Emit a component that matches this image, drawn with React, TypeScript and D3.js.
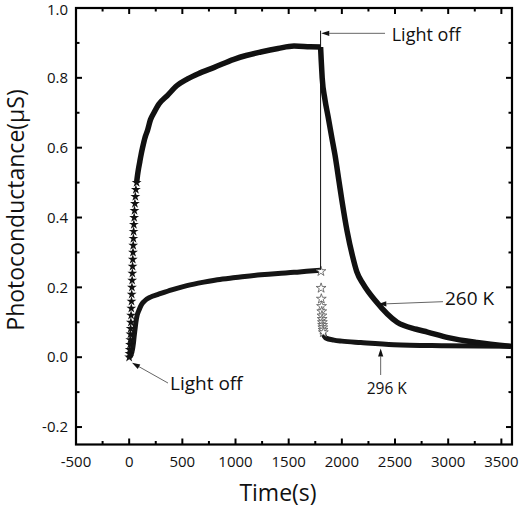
import * as d3 from 'd3';

// axis ticks
const xMajor = [-500, 0, 500, 1000, 1500, 2000, 2500, 3000, 3500];
const xMinor = [-250, 250, 750, 1250, 1750, 2250, 2750, 3250];
const yMajor = [-0.2, 0, 0.2, 0.4, 0.6, 0.8, 1.0];
const yMinor = [-0.1, 0.1, 0.3, 0.5, 0.7, 0.9];

// 260 K: sparse stars of the first steep rise
const k260Rise: [number, number][] = [
  [0, 0.0], [3, 0.01], [5, 0.022], [8, 0.036], [10, 0.05], [12, 0.066], [14, 0.082],
  [16, 0.1], [18, 0.12], [20, 0.14], [22, 0.16], [24, 0.18], [26, 0.2], [28, 0.22],
  [30, 0.24], [32, 0.26], [34, 0.28], [36, 0.3], [38, 0.32], [40, 0.34], [42, 0.36],
  [44, 0.38], [47, 0.4], [50, 0.42], [54, 0.44], [58, 0.46], [63, 0.48], [70, 0.5],
];
// 260 K: dense growth under light
const k260Growth: [number, number][] = [
  [70, 0.5], [78, 0.52], [88, 0.54], [100, 0.56], [112, 0.58], [126, 0.6], [150, 0.63],
  [173, 0.65], [200, 0.68], [233, 0.7], [280, 0.725], [361, 0.75], [450, 0.778],
  [549, 0.797], [650, 0.812], [800, 0.83], [985, 0.853], [1100, 0.864], [1238, 0.874],
  [1400, 0.884], [1550, 0.891], [1700, 0.889], [1800, 0.888],
];
// 260 K: decay after light off
const k260Decay: [number, number][] = [
  [1800, 0.888], [1806, 0.85], [1815, 0.8], [1840, 0.74], [1870, 0.69], [1905, 0.63],
  [1935, 0.58], [1975, 0.5], [2000, 0.45], [2050, 0.36], [2100, 0.29], [2140, 0.245],
  [2200, 0.21], [2320, 0.16], [2520, 0.1], [2700, 0.08], [2805, 0.072], [3000, 0.056],
  [3270, 0.042], [3590, 0.031],
];

// 296 K: growth under light
const k296Growth: [number, number][] = [
  [0, 0.0], [15, 0.005], [31, 0.022], [40, 0.04], [47, 0.06], [55, 0.08], [63, 0.1],
  [75, 0.12], [94, 0.136], [115, 0.15], [141, 0.16], [200, 0.172], [266, 0.179],
  [400, 0.193], [517, 0.203], [650, 0.212], [830, 0.222], [1000, 0.228], [1238, 0.236],
  [1400, 0.24], [1550, 0.243], [1700, 0.247], [1800, 0.249],
];
// 296 K: sparse hollow stars of the drop
const k296Drop: [number, number][] = [
  [1803, 0.246], [1805, 0.198], [1807, 0.167], [1809, 0.146], [1811, 0.131],
  [1813, 0.119], [1815, 0.109], [1817, 0.1], [1819, 0.092], [1821, 0.085],
  [1823, 0.078], [1826, 0.071],
];
// 296 K: slow decay after light off
const k296Decay: [number, number][] = [
  [1826, 0.071], [1830, 0.064], [1840, 0.058], [1849, 0.055], [1925, 0.049],
  [2000, 0.046], [2178, 0.042], [2490, 0.036], [2960, 0.033], [3590, 0.031],
];

const W = 520;
const H = 509;
const margin = { top: 8, right: 8, bottom: 64.5, left: 76 };
const font = '"Open Sans", "Noto Sans", sans-serif';

const x = d3.scaleLinear().domain([-500, 3600]).range([margin.left, W - margin.right]);
const y = d3.scaleLinear().domain([-0.25, 1.0]).range([H - margin.bottom, margin.top]);

const line = d3
  .line<[number, number]>()
  .x((d) => x(d[0]))
  .y((d) => y(d[1]))
  .curve(d3.curveMonotoneX);

const star = d3.symbol(d3.symbolStar, 30)() as string;

function Arrow({ x1, y1, x2, y2 }: { x1: number; y1: number; x2: number; y2: number }) {
  // tail (x1,y1) -> tip (x2,y2), in data units
  const ax = x(x1), ay = y(y1), bx = x(x2), by = y(y2);
  const ang = Math.atan2(by - ay, bx - ax);
  const len = 8, half = 2.6;
  const px = bx - len * Math.cos(ang), py = by - len * Math.sin(ang);
  const head = [
    [bx, by],
    [px - half * Math.sin(ang), py + half * Math.cos(ang)],
    [px + half * Math.sin(ang), py - half * Math.cos(ang)],
  ].map((p) => p.join(',')).join(' ');
  return (
    <g>
      <line x1={ax} y1={ay} x2={px} y2={py} stroke="#666" strokeWidth={1} />
      <polygon points={head} fill="#111" />
    </g>
  );
}

export default function App() {
  const x0 = x.range()[0], x1 = x.range()[1];
  const y0 = y.range()[0], y1 = y.range()[1];
  return (
    <svg width={W} height={H} style={{ position: 'absolute', left: 0, top: 0, background: '#fff' }}>
      <rect width={W} height={H} fill="#fff" />

      {/* 296 K */}
      <path d={line(k296Growth) as string} fill="none" stroke="#151515" strokeWidth={5} />
      <path d={line(k296Decay) as string} fill="none" stroke="#151515" strokeWidth={5} />
      {k296Drop.map((d, i) => (
        <path key={'d' + i} d={star} transform={`translate(${x(d[0])},${y(d[1])})`}
          fill="#fff" stroke="#555" strokeWidth={0.8} />
      ))}

      {/* 260 K */}
      <path d={line(k260Growth) as string} fill="none" stroke="#111" strokeWidth={5.5} />
      <path d={line(k260Decay) as string} fill="none" stroke="#111" strokeWidth={5.5} />
      {k260Rise.map((d, i) => (
        <path key={'r' + i} d={star} transform={`translate(${x(d[0])},${y(d[1])})`} fill="#111" />
      ))}

      {/* light-off marker line */}
      <line x1={x(1800)} x2={x(1800)} y1={y(0.25)} y2={y(0.935)} stroke="#111" strokeWidth={1} />

      {/* annotations */}
      <Arrow x1={2406} y1={0.9275} x2={1806} y2={0.9275} />
      <text x={x(2469)} y={y(0.905)} fontFamily={font} fontSize={18} fill="#111">Light off</text>
      <Arrow x1={365} y1={-0.074} x2={27} y2={-0.016} />
      <text x={x(384)} y={y(-0.094)} fontFamily={font} fontSize={19} fill="#111">Light off</text>
      <Arrow x1={2951} y1={0.159} x2={2343} y2={0.152} />
      <text x={x(2970)} y={y(0.149)} fontFamily={font} fontSize={19} fill="#111">260 K</text>
      <Arrow x1={2365} y1={-0.051} x2={2365} y2={0.025} />
      <text x={x(2422)} y={y(-0.105)} fontFamily={font} fontSize={15.5} fill="#111" textAnchor="middle">296 K</text>

      {/* frame */}
      <rect x={x0} y={y1} width={x1 - x0} height={y0 - y1} fill="none" stroke="#000" strokeWidth={2.2} />

      {/* x ticks bottom/top */}
      {xMajor.map((t) => (
        <g key={'xm' + t}>
          <line x1={x(t)} x2={x(t)} y1={y0} y2={y0 - 6} stroke="#000" strokeWidth={2} />
          <line x1={x(t)} x2={x(t)} y1={y1} y2={y1 + 6} stroke="#000" strokeWidth={2} />
          <text x={x(t)} y={466.5} fontFamily={font} fontSize={15} textAnchor="middle" fill="#111">{t}</text>
        </g>
      ))}
      {xMinor.map((t) => (
        <g key={'xn' + t}>
          <line x1={x(t)} x2={x(t)} y1={y0} y2={y0 - 3.5} stroke="#000" strokeWidth={2} />
          <line x1={x(t)} x2={x(t)} y1={y1} y2={y1 + 3.5} stroke="#000" strokeWidth={2} />
        </g>
      ))}

      {/* y ticks left/right */}
      {yMajor.map((v) => (
        <g key={'ym' + v}>
          <line x1={x0} x2={x0 + 6} y1={y(v)} y2={y(v)} stroke="#000" strokeWidth={2} />
          <line x1={x1} x2={x1 - 6} y1={y(v)} y2={y(v)} stroke="#000" strokeWidth={2} />
          <text x={68} y={Math.max(y(v), 9.5)} dy="0.35em" fontFamily={font} fontSize={15} textAnchor="end" fill="#111">
            {v.toFixed(1)}
          </text>
        </g>
      ))}
      {yMinor.map((v) => (
        <g key={'yn' + v}>
          <line x1={x0} x2={x0 + 3.5} y1={y(v)} y2={y(v)} stroke="#000" strokeWidth={2} />
          <line x1={x1} x2={x1 - 3.5} y1={y(v)} y2={y(v)} stroke="#000" strokeWidth={2} />
        </g>
      ))}

      {/* axis titles */}
      <text x={278} y={501} fontFamily={font} fontSize={23} textAnchor="middle" fill="#111">Time(s)</text>
      <text transform="translate(24,210) rotate(-90)" fontFamily={font} fontSize={23} textAnchor="middle" fill="#111">
        Photoconductance(μS)
      </text>
    </svg>
  );
}
